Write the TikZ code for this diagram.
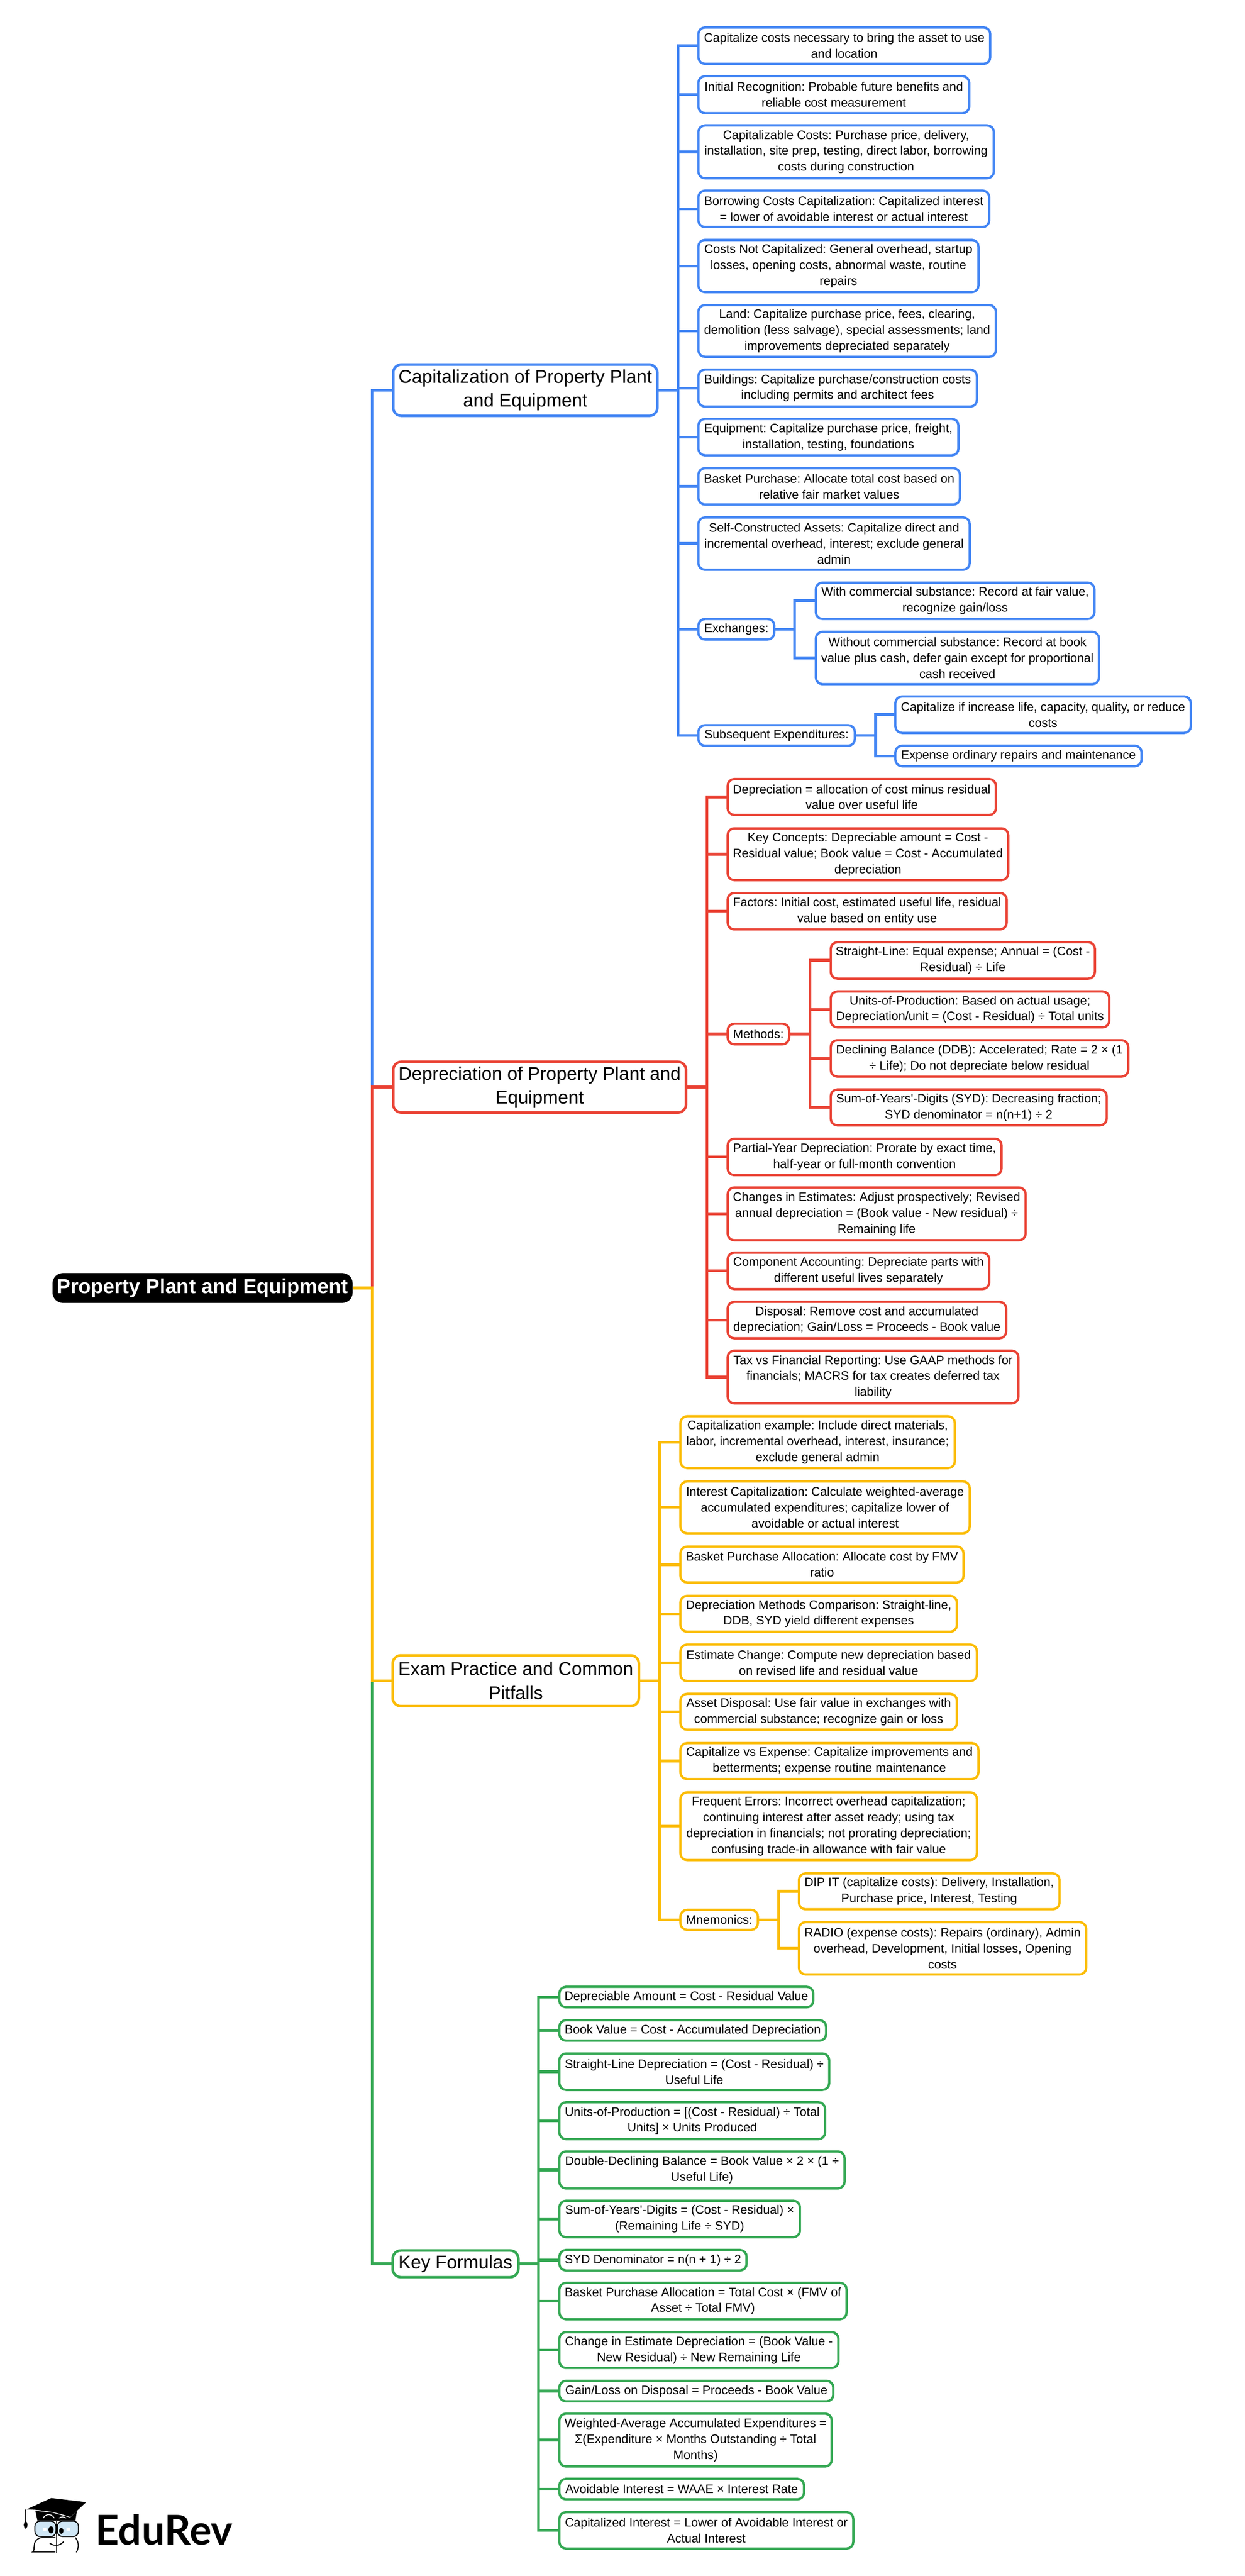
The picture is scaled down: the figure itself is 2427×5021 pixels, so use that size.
\documentclass[tikz,border=0pt]{standalone}
\usepackage{fontspec}
\setmainfont{Liberation Sans}
\newfontfamily\logofont{Lato}
\definecolor{cb}{HTML}{4285F4}
\definecolor{cr}{HTML}{EA4335}
\definecolor{cy}{HTML}{FBBC04}
\definecolor{cg}{HTML}{34A853}
\definecolor{glass}{HTML}{CFE6F5}
\tikzset{
  leafbox/.style={draw=#1,fill=white,line width=2.25pt,rounded corners=6.5pt,inner sep=0pt,outer sep=0pt,align=center,text=black,font=\fontsize{12}{15.5}\selectfont\frenchspacing},
  branchbox/.style={draw=#1,fill=white,line width=2.5pt,rounded corners=8pt,inner sep=0pt,outer sep=0pt,align=center,text=black,font=\fontsize{18}{23.5}\selectfont},
  rootbox/.style={fill=black,rounded corners=10pt,inner sep=0pt,outer sep=0pt,align=center,text=white,font=\fontsize{19.8}{23}\selectfont\bfseries},
  conn/.style={draw=#1,line width=2.75pt,line join=miter,line cap=butt}
}
% name, style, x1, y1, x2, y2, text (outer edges in reference pixels)
\newcommand{\bx}[7]{\node[#2,minimum width={(#5-#3-5)*0.5pt},minimum height={(#6-#4-5)*0.5pt}] (#1) at ({(#3+#5)/2},{(#4+#6)/2}) {#7};}
% colour, parent, spine, child
\newcommand{\lk}[4]{\draw[conn=#1] (#2.east) -- (#2.east -| #3) -- (#3 |- #4.west) -- (#4.west);}
\begin{document}
\begin{tikzpicture}[x=0.5pt,y=-0.5pt]
\useasboundingbox (0,0) rectangle (2427,5021);
\fill[white] (0,0) rectangle (2427,5021);
\coordinate (st) at (726,2510);
\coordinate (sb) at (1322,760);
\coordinate (sx) at (1549,1226);
\coordinate (ss) at (1707,1433);
\coordinate (sr) at (1378,2118);
\coordinate (sm) at (1579,2015);
\coordinate (sy) at (1286,3276);
\coordinate (sn) at (1518,3742);
\coordinate (sg) at (1050,4412);

\bx{root}{rootbox}{100}{2479}{690}{2542}{Property Plant and Equipment}
\bx{bcap}{branchbox=cb}{764}{708}{1284}{813}{Capitalization of Property Plant\\and Equipment}
\bx{bdep}{branchbox=cr}{764}{2067}{1340}{2171}{Depreciation of Property Plant and\\Equipment}
\bx{bexa}{branchbox=cy}{763}{3224}{1248}{3328}{Exam Practice and Common\\Pitfalls}
\bx{bkey}{branchbox=cg}{763}{4384}{1013}{4441}{Key Formulas}

\bx{a1}{leafbox=cb}{1359}{51}{1933}{127}{Capitalize costs necessary to bring the asset to use\\and location}
\bx{a2}{leafbox=cb}{1359}{146}{1892}{223}{Initial Recognition: Probable future benefits and\\reliable cost measurement}
\bx{a3}{leafbox=cb}{1359}{242}{1940}{350}{Capitalizable Costs: Purchase price, delivery,\\installation, site prep, testing, direct labor, borrowing\\costs during construction}
\bx{a4}{leafbox=cb}{1359}{369}{1931}{445}{Borrowing Costs Capitalization: Capitalized interest\\= lower of avoidable interest or actual interest}
\bx{a5}{leafbox=cb}{1359}{465}{1910}{572}{Costs Not Capitalized: General overhead, startup\\losses, opening costs, abnormal waste, routine\\repairs}
\bx{a6}{leafbox=cb}{1359}{592}{1944}{698}{Land: Capitalize purchase price, fees, clearing,\\demolition (less salvage), special assessments; land\\improvements depreciated separately}
\bx{a7}{leafbox=cb}{1359}{718}{1907}{795}{Buildings: Capitalize purchase/construction costs\\including permits and architect fees}
\bx{a8}{leafbox=cb}{1359}{814}{1871}{890}{Equipment: Capitalize purchase price, freight,\\installation, testing, foundations}
\bx{a9}{leafbox=cb}{1359}{910}{1874}{986}{Basket Purchase: Allocate total cost based on\\relative fair market values}
\bx{a10}{leafbox=cb}{1359}{1006}{1893}{1113}{Self-Constructed Assets: Capitalize direct and\\incremental overhead, interest; exclude general\\admin}
\bx{a11}{leafbox=cb}{1359}{1204}{1512}{1249}{Exchanges:}
\bx{a12}{leafbox=cb}{1359}{1411}{1669}{1456}{Subsequent Expenditures:}
\bx{x1}{leafbox=cb}{1588}{1133}{2136}{1209}{With commercial substance: Record at fair value,\\recognize gain/loss}
\bx{x2}{leafbox=cb}{1588}{1229}{2145}{1336}{Without commercial substance: Record at book\\value plus cash, defer gain except for proportional\\cash received}
\bx{s1}{leafbox=cb}{1743}{1355}{2324}{1431}{Capitalize if increase life, capacity, quality, or reduce\\costs}
\bx{s2}{leafbox=cb}{1743}{1451}{2228}{1496}{Expense ordinary repairs and maintenance}

\bx{d1}{leafbox=cr}{1416}{1516}{1944}{1591}{Depreciation = allocation of cost minus residual\\value over useful life}
\bx{d2}{leafbox=cr}{1416}{1612}{1968}{1718}{Key Concepts: Depreciable amount = Cost -\\Residual value; Book value = Cost - Accumulated\\depreciation}
\bx{d3}{leafbox=cr}{1416}{1738}{1965}{1814}{Factors: Initial cost, estimated useful life, residual\\value based on entity use}
\bx{d4}{leafbox=cr}{1416}{1993}{1541}{2038}{Methods:}
\bx{m1}{leafbox=cr}{1617}{1834}{2137}{1910}{Straight-Line: Equal expense; Annual = (Cost -\\Residual) ÷ Life}
\bx{m2}{leafbox=cr}{1617}{1930}{2165}{2005}{Units-of-Production: Based on actual usage;\\Depreciation/unit = (Cost - Residual) ÷ Total units}
\bx{m3}{leafbox=cr}{1617}{2025}{2202}{2101}{Declining Balance (DDB): Accelerated; Rate = 2 × (1\\÷ Life); Do not depreciate below residual}
\bx{m4}{leafbox=cr}{1617}{2121}{2160}{2196}{Sum-of-Years\textquotesingle-Digits (SYD): Decreasing fraction;\\SYD denominator = n(n+1) ÷ 2}
\bx{d5}{leafbox=cr}{1416}{2217}{1955}{2293}{Partial-Year Depreciation: Prorate by exact time,\\half-year or full-month convention}
\bx{d6}{leafbox=cr}{1416}{2312}{2002}{2420}{Changes in Estimates: Adjust prospectively; Revised\\annual depreciation = (Book value - New residual) ÷\\Remaining life}
\bx{d7}{leafbox=cr}{1416}{2439}{1931}{2515}{Component Accounting: Depreciate parts with\\different useful lives separately}
\bx{d8}{leafbox=cr}{1416}{2535}{1964}{2611}{Disposal: Remove cost and accumulated\\depreciation; Gain/Loss = Proceeds - Book value}
\bx{d9}{leafbox=cr}{1416}{2630}{1988}{2738}{Tax vs Financial Reporting: Use GAAP methods for\\financials; MACRS for tax creates deferred tax\\liability}

\bx{e1}{leafbox=cy}{1324}{2758}{1864}{2864}{Capitalization example: Include direct materials,\\labor, incremental overhead, interest, insurance;\\exclude general admin}
\bx{e2}{leafbox=cy}{1324}{2885}{1893}{2991}{Interest Capitalization: Calculate weighted-average\\accumulated expenditures; capitalize lower of\\avoidable or actual interest}
\bx{e3}{leafbox=cy}{1324}{3012}{1881}{3087}{Basket Purchase Allocation: Allocate cost by FMV\\ratio}
\bx{e4}{leafbox=cy}{1324}{3108}{1868}{3183}{Depreciation Methods Comparison: Straight-line,\\DDB, SYD yield different expenses}
\bx{e5}{leafbox=cy}{1324}{3203}{1907}{3279}{Estimate Change: Compute new depreciation based\\on revised life and residual value}
\bx{e6}{leafbox=cy}{1324}{3299}{1868}{3374}{Asset Disposal: Use fair value in exchanges with\\commercial substance; recognize gain or loss}
\bx{e7}{leafbox=cy}{1324}{3395}{1910}{3470}{Capitalize vs Expense: Capitalize improvements and\\betterments; expense routine maintenance}
\bx{e8}{leafbox=cy}{1324}{3491}{1907}{3628}{Frequent Errors: Incorrect overhead capitalization;\\continuing interest after asset ready; using tax\\depreciation in financials; not prorating depreciation;\\confusing trade-in allowance with fair value}
\bx{e9}{leafbox=cy}{1324}{3720}{1480}{3764}{Mnemonics:}
\bx{n1}{leafbox=cy}{1555}{3649}{2068}{3724}{DIP IT (capitalize costs): Delivery, Installation,\\Purchase price, Interest, Testing}
\bx{n2}{leafbox=cy}{1555}{3744}{2120}{3851}{RADIO (expense costs): Repairs (ordinary), Admin\\overhead, Development, Initial losses, Opening\\costs}

\bx{k1}{leafbox=cg}{1088}{3870}{1588}{3915}{Depreciable Amount = Cost - Residual Value}
\bx{k2}{leafbox=cg}{1088}{3935}{1613}{3980}{Book Value = Cost - Accumulated Depreciation}
\bx{k3}{leafbox=cg}{1088}{4000}{1619}{4076}{Straight-Line Depreciation = (Cost - Residual) ÷\\Useful Life}
\bx{k4}{leafbox=cg}{1088}{4095}{1611}{4172}{Units-of-Production = [(Cost - Residual) ÷ Total\\Units] × Units Produced}
\bx{k5}{leafbox=cg}{1088}{4191}{1649}{4268}{Double-Declining Balance = Book Value × 2 × (1 ÷\\Useful Life)}
\bx{k6}{leafbox=cg}{1088}{4287}{1562}{4363}{Sum-of-Years\textquotesingle-Digits = (Cost - Residual) ×\\(Remaining Life ÷ SYD)}
\bx{k7}{leafbox=cg}{1088}{4383}{1458}{4428}{SYD Denominator = n(n + 1) ÷ 2}
\bx{k8}{leafbox=cg}{1088}{4447}{1653}{4523}{Basket Purchase Allocation = Total Cost × (FMV of\\Asset ÷ Total FMV)}
\bx{k9}{leafbox=cg}{1088}{4543}{1637}{4618}{Change in Estimate Depreciation = (Book Value -\\New Residual) ÷ New Remaining Life}
\bx{k10}{leafbox=cg}{1088}{4638}{1627}{4683}{Gain/Loss on Disposal = Proceeds - Book Value}
\bx{k11}{leafbox=cg}{1088}{4702}{1624}{4810}{Weighted-Average Accumulated Expenditures =\\Σ(Expenditure × Months Outstanding ÷ Total\\Months)}
\bx{k12}{leafbox=cg}{1088}{4829}{1570}{4874}{Avoidable Interest = WAAE × Interest Rate}
\bx{k13}{leafbox=cg}{1088}{4894}{1666}{4970}{Capitalized Interest = Lower of Avoidable Interest or\\Actual Interest}

% trunk: later colours lie over earlier ones
\lk{cb}{root}{st}{bcap}
\lk{cr}{root}{st}{bdep}
\lk{cg}{root}{st}{bkey}
\lk{cy}{root}{st}{bexa}

\foreach \c in {a1,a2,a3,a4,a5,a6,a7,a8,a9,a10,a11,a12} {\lk{cb}{bcap}{sb}{\c}}
\foreach \c in {x1,x2} {\lk{cb}{a11}{sx}{\c}}
\foreach \c in {s1,s2} {\lk{cb}{a12}{ss}{\c}}
\foreach \c in {d1,d2,d3,d4,d5,d6,d7,d8,d9} {\lk{cr}{bdep}{sr}{\c}}
\foreach \c in {m1,m2,m3,m4} {\lk{cr}{d4}{sm}{\c}}
\foreach \c in {e1,e2,e3,e4,e5,e6,e7,e8,e9} {\lk{cy}{bexa}{sy}{\c}}
\foreach \c in {n1,n2} {\lk{cy}{e9}{sn}{\c}}
\foreach \c in {k1,k2,k3,k4,k5,k6,k7,k8,k9,k10,k11,k12,k13} {\lk{cg}{bkey}{sg}{\c}}

% logo
\fill[black] (52,4891) -- (100,4869) -- (168,4877) -- (137,4906) .. controls (110,4896) and (80,4892) .. (52,4891) -- cycle;
\fill[black] (69,4894) -- (100,4897) -- (137,4907) -- (150,4894) -- (147,4913) -- (73,4913) -- cycle;
\draw[white,line width=0.8pt] (84,4908) .. controls (90,4899) and (100,4899) .. (106,4908);
\draw[white,line width=0.8pt] (115,4908) .. controls (119,4905) and (125,4905) .. (129,4908);
\draw[black,line width=1pt] (50,4891) -- (50,4915);
\fill[black] (50,4913) .. controls (45,4918) and (45,4925) .. (50,4929) .. controls (55,4925) and (55,4918) .. (50,4913) -- cycle;
\filldraw[fill=glass,draw=black,line width=1pt,rounded corners=5pt] (68,4914) rectangle (109,4944);
\filldraw[fill=glass,draw=black,line width=1pt,rounded corners=5pt] (112,4914) rectangle (153,4944);
\fill[black] (99.5,4931) ellipse [x radius=5,y radius=7];
\fill[black] (119.5,4933) ellipse [x radius=4,y radius=6];
\fill[white] (83,4927) rectangle (90,4933);
\fill[white] (130,4927) rectangle (137,4933);
\draw[black,line width=1pt,rounded corners=5pt] (108,4946) -- (72,4946) .. controls (66,4960) and (67,4974) .. (74,4974) -- (108,4974);
\draw[black,line width=1pt] (147,4946) .. controls (154,4955) and (154,4965) .. (149,4975);
\draw[black,line width=1.3pt] (110.5,4913) -- (110.5,4976);
\draw[black,line width=1pt] (97,4957) .. controls (105,4963) and (116,4963) .. (124,4954);
\node[anchor=base west,inner sep=0pt,font=\logofont\fontsize{40}{40}\selectfont\bfseries] (logo) at (186,4960) {EduRev};
\end{tikzpicture}
\end{document}
